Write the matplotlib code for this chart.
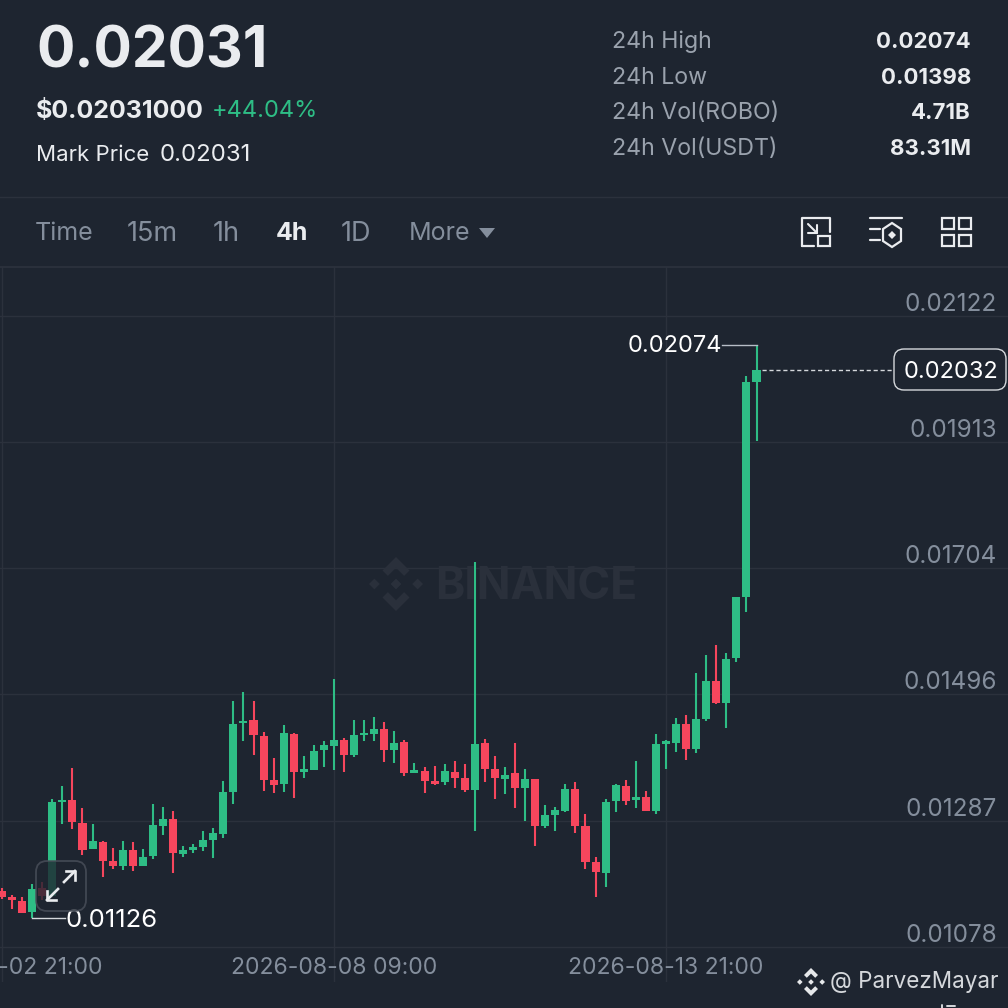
import numpy as np
from matplotlib import pyplot as plt
from matplotlib.patches import FancyBboxPatch, Polygon, Rectangle

# candles, 4h, oldest first
opens = [0.01171, 0.01161, 0.01154, 0.01136, 0.01175, 0.01162, 0.01318, 0.01321, 0.01283, 0.01240,
         0.01252, 0.01221, 0.01212, 0.01238, 0.01212, 0.01228, 0.01278, 0.01290, 0.01232, 0.01238,
         0.01244, 0.01255, 0.01265, 0.01335, 0.01448, 0.01453, 0.01427, 0.01354, 0.01347, 0.01431,
         0.01368, 0.01370, 0.01403, 0.01411, 0.01420, 0.01396, 0.01428, 0.01430, 0.01438, 0.01403,
         0.01417, 0.01366, 0.01369, 0.01352, 0.01351, 0.01368, 0.01358, 0.01338, 0.01415, 0.01372,
         0.01356, 0.01365, 0.01341, 0.01356, 0.01278, 0.01296, 0.01303, 0.01339, 0.01278, 0.01219,
         0.01201, 0.01319, 0.01345, 0.01321, 0.01326, 0.01303, 0.01414, 0.01416, 0.01446, 0.01406,
         0.01455, 0.01517, 0.01482, 0.01556, 0.01657, 0.02012]
closes = [0.01160, 0.01155, 0.01135, 0.01174, 0.01162, 0.01317, 0.01321, 0.01284, 0.01238, 0.01253,
          0.01220, 0.01212, 0.01238, 0.01212, 0.01227, 0.01279, 0.01290, 0.01233, 0.01239, 0.01243,
          0.01255, 0.01266, 0.01335, 0.01447, 0.01452, 0.01428, 0.01354, 0.01346, 0.01432, 0.01368,
          0.01372, 0.01402, 0.01412, 0.01420, 0.01395, 0.01428, 0.01432, 0.01439, 0.01403, 0.01416,
          0.01365, 0.01370, 0.01352, 0.01348, 0.01369, 0.01358, 0.01338, 0.01414, 0.01372, 0.01357,
          0.01363, 0.01341, 0.01356, 0.01278, 0.01296, 0.01304, 0.01340, 0.01278, 0.01219, 0.01202,
          0.01317, 0.01346, 0.01320, 0.01326, 0.01303, 0.01414, 0.01418, 0.01447, 0.01406, 0.01455,
          0.01517, 0.01482, 0.01555, 0.01657, 0.02012, 0.02032]
highs = [0.01175, 0.01164, 0.01160, 0.01182, 0.01186, 0.01322, 0.01344, 0.01374, 0.01307, 0.01282,
         0.01254, 0.01241, 0.01253, 0.01251, 0.01240, 0.01314, 0.01310, 0.01303, 0.01245, 0.01248,
         0.01270, 0.01274, 0.01353, 0.01485, 0.01500, 0.01485, 0.01434, 0.01391, 0.01445, 0.01432,
         0.01394, 0.01412, 0.01419, 0.01521, 0.01423, 0.01453, 0.01454, 0.01458, 0.01450, 0.01435,
         0.01420, 0.01382, 0.01375, 0.01377, 0.01381, 0.01385, 0.01380, 0.01715, 0.01422, 0.01393,
         0.01375, 0.01415, 0.01373, 0.01356, 0.01312, 0.01310, 0.01348, 0.01350, 0.01298, 0.01226,
         0.01323, 0.01348, 0.01354, 0.01386, 0.01336, 0.01430, 0.01420, 0.01457, 0.01461, 0.01531,
         0.01561, 0.01577, 0.01564, 0.01657, 0.02022, 0.02074]
lows = [0.01157, 0.01141, 0.01134, 0.01126, 0.01156, 0.01161, 0.01281, 0.01273, 0.01230, 0.01240,
        0.01194, 0.01207, 0.01205, 0.01204, 0.01212, 0.01223, 0.01263, 0.01200, 0.01227, 0.01234,
        0.01237, 0.01225, 0.01259, 0.01315, 0.01418, 0.01395, 0.01336, 0.01333, 0.01335, 0.01324,
        0.01358, 0.01370, 0.01376, 0.01370, 0.01367, 0.01392, 0.01419, 0.01418, 0.01384, 0.01383,
        0.01360, 0.01365, 0.01333, 0.01346, 0.01346, 0.01341, 0.01335, 0.01270, 0.01351, 0.01322,
        0.01331, 0.01307, 0.01286, 0.01245, 0.01274, 0.01270, 0.01302, 0.01266, 0.01207, 0.01160,
        0.01178, 0.01301, 0.01313, 0.01307, 0.01303, 0.01298, 0.01373, 0.01401, 0.01387, 0.01398,
        0.01451, 0.01480, 0.01440, 0.01550, 0.01632, 0.01914]

price_ticks = [0.02122, 0.01913, 0.01704, 0.01496, 0.01287, 0.01078]
price_labels = ['0.02122', '0.01913', '0.01704', '0.01496', '0.01287', '0.01078']
date_ticks = [0, 33, 66]
date_labels = ['2026-08-02 21:00', '2026-08-08 09:00', '2026-08-13 21:00']
tabs = ['Time', '15m', '1h', '4h', '1D', 'More']
stat_names = ['24h High', '24h Low', '24h Vol(ROBO)', '24h Vol(USDT)']
stat_values = ['0.02074', '0.01398', '4.71B', '83.31M']
day_high = 0.02074
period_low = 0.01126
last_price = 0.02032

BG = '#1e2530'
GRID = '#2b313c'
GREEN = '#2ebd85'
RED = '#f6465d'
WHITE = '#eaecef'
GREY = '#848e9c'

plt.rcParams['font.family'] = ['Inter', 'DejaVu Sans']

fig = plt.figure(figsize=(10.08, 10.08), dpi=100, facecolor=BG)


# chart area runs from pixel row 267 to 982
def add_box(left, top, right, bottom):
    return fig.add_axes([left / 1008, 1 - bottom / 1008, (right - left) / 1008, (bottom - top) / 1008])


ax = add_box(0, 267, 1008, 982)
ax.set_facecolor(BG)
ax.set_xlim(-0.2, 100)
ax.set_ylim(0.010201, 0.022024)
for s in ax.spines.values():
    s.set_visible(False)
ax.tick_params(left=False, bottom=False, labelleft=False, labelbottom=False)
ax.set_yticks(price_ticks)
ax.set_xticks(date_ticks)
ax.grid(True, color=GRID, linewidth=1.0)
ax.set_axisbelow(True)

x = np.arange(len(opens))
o = np.array(opens)
c = np.array(closes)
colors = [GREEN if b >= a else RED for a, b in zip(opens, closes)]
ax.vlines(x, lows, highs, colors=colors, linewidth=1.5, zorder=3)
ax.bar(x, np.abs(c - o), bottom=np.minimum(o, c), width=0.8, color=colors, zorder=4)

# price labels sit just above their grid lines
for p, s in zip(price_ticks, price_labels):
    ax.annotate(s, (1, p), xycoords=ax.get_yaxis_transform(), xytext=(-8, 0), textcoords='offset points',
                ha='right', va='bottom', color=GREY, fontsize=17.5)
for d, s in zip(date_ticks, date_labels):
    ax.annotate(s, (d, 0), xycoords=ax.get_xaxis_transform(), xytext=(0, 2), textcoords='offset points',
                ha='center', va='bottom', color=GREY, fontsize=16.5, annotation_clip=False)

# high / low / last markers
ax.plot([71.6, 75], [day_high, day_high], color='#b7bdc6', linewidth=1, zorder=5)
ax.annotate('0.02074', (71.6, day_high), xytext=(0, -1), textcoords='offset points', ha='right', va='center',
            color='white', fontsize=17)
ax.plot([3, 6.3], [period_low, period_low], color='#d5d8dc', linewidth=1, zorder=5)
ax.annotate('0.01126', (6.3, period_low), xytext=(0, -2), textcoords='offset points', ha='left', va='center',
            color='white', fontsize=18.5, zorder=8)
ax.plot([75.5, 88.6], [last_price, last_price], color='#d5d8dc', linewidth=1, linestyle=(0, (3, 2)), zorder=5)

# overlay in pixel coordinates for the app chrome
ov = fig.add_axes([0, 0, 1, 1], facecolor='none')
ov.set_xlim(0, 1008)
ov.set_ylim(1008, 0)
ov.axis('off')


def txt(px, py, s, size, color=WHITE, ha='left', weight='normal'):
    ov.text(px, py + 3, s, fontsize=size, color=color, ha=ha, va='center', fontweight=weight)


def logo(cx, cy, r, color):
    top = [(0, -1), (.5, -.5), (.3, -.3), (0, -.6), (-.3, -.3), (-.5, -.5)]
    mid = [(0, -.2), (.2, 0), (0, .2), (-.2, 0)]
    left = [(-1, 0), (-.8, -.2), (-.6, 0), (-.8, .2)]
    right = [(1, 0), (.8, -.2), (.6, 0), (.8, .2)]
    bottom = [(a, -b) for a, b in top]
    for shape in [top, mid, left, right, bottom]:
        ov.add_patch(Polygon([(cx + a * r, cy + b * r) for a, b in shape], color=color, linewidth=0))


def line(xs, ys, color=WHITE, lw=1.6):
    ov.plot(xs, ys, color=color, linewidth=lw, solid_capstyle='round', solid_joinstyle='round')


def box(px, py, w, h, color=WHITE, lw=1.6):
    ov.add_patch(Rectangle((px, py), w, h, fill=False, edgecolor=color, linewidth=lw))


# header
txt(36, 49, '0.02031', 41, '#eaecef', weight='bold')
txt(36, 108, '$0.02031000', 18, WHITE, weight='bold')
txt(212, 108, '+44.04%', 17, GREEN)
txt(36, 152, 'Mark Price', 16, WHITE)
txt(160, 152, '0.02031', 17.3, WHITE)
for i, py in enumerate([39, 75, 110, 146]):
    txt(612, py, stat_names[i], 16.7, '#9aa2ad')
    txt(971, py, stat_values[i], 16, WHITE, ha='right', weight='bold')

ov.plot([0, 1008], [197, 197], color=GRID, linewidth=1)
ov.plot([0, 1008], [267, 267], color=GRID, linewidth=1.4)

# toolbar
tab_x = [35, 127, 213, 276, 341, 409]
tab_size = [18, 19.5, 19.5, 18, 19.5, 18]
for tx, s, sz in zip(tab_x, tabs, tab_size):
    if s == '4h':
        txt(tx, 231, s, sz, WHITE, weight='bold')
    else:
        txt(tx, 231, s, sz, GREY)
ov.add_patch(Polygon([(479, 228), (495, 228), (487, 238)], color=GREY, linewidth=0))

line([802, 802, 830, 830], [246, 218, 218, 232])
line([802, 814], [246, 246])
box(818, 236, 12, 10)
line([808, 817], [224, 233], lw=1.5)
line([817, 817, 808], [225, 233, 233], lw=1.5)

line([870, 902], [218, 218])
line([870, 880], [229, 229])
line([870, 880], [240, 240])
ov.add_patch(Polygon([(892, 223), (901, 229), (901, 241), (892, 247), (883, 241), (883, 229)], fill=False,
                     edgecolor=WHITE, linewidth=1.6))
ov.add_patch(Polygon([(892, 231), (896, 235), (892, 239), (888, 235)], color=WHITE, linewidth=0))

for bx in [942, 959]:
    for by in [218, 235]:
        box(bx, by, 11.5, 11)

# watermark
logo(396, 584, 27, '#2a303b')
txt(435, 584, 'BINANCE', 32, '#2a303b', weight='bold')

# last price tag
ov.add_patch(FancyBboxPatch((894, 349), 112, 41, boxstyle='round,pad=0,rounding_size=10', facecolor=BG,
                            edgecolor='#d5d8dc', linewidth=1, zorder=6))
ov.text(951, 372, '0.02032', fontsize=17, color='white', ha='center', va='center', zorder=7)

# expand button over the candles
ov.add_patch(FancyBboxPatch((36, 861), 50, 50, boxstyle='round,pad=0,rounding_size=11', facecolor=BG, alpha=0.8,
                            edgecolor='#4a505b', linewidth=1.3, zorder=6))
ov.plot([47, 58], [900, 889], color=WHITE, linewidth=1.9, zorder=7)
ov.plot([47, 47, 56], [891, 900, 900], color=WHITE, linewidth=1.9, zorder=7)
ov.plot([64, 75], [882, 871], color=WHITE, linewidth=1.9, zorder=7)
ov.plot([66, 75, 75], [871, 871, 880], color=WHITE, linewidth=1.9, zorder=7)

# credit, with a scrap of the next line cut by the bottom edge
logo(811, 982, 14, '#e6e8ea')
txt(830, 979, '@ ParvezMayar', 16.2, '#d5d8dc')
line([942, 942], [1005, 1008], '#d5d8dc', 1.4)
line([947, 955], [1005.5, 1005.5], '#d5d8dc', 1.4)

fig.savefig('out.png', dpi=100, facecolor=BG)
